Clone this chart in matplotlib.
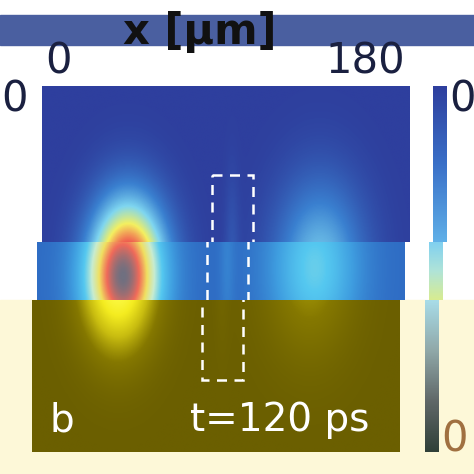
import numpy as np
import matplotlib.pyplot as plt
from matplotlib.colors import LinearSegmentedColormap
from matplotlib.patches import Rectangle

# blob parameters: x centre [um], y centre [px rows], widths, amplitude
blob_x = [42, 136, 93]
blob_y = [190, 182, 175]
blob_sx = [13, 15, 2.5]
blob_sy = [52, 60, 60]
blob_amp = [1.0, 0.36, 0.07]
box_x = [83, 103]
box_y = [89, 294]

x = np.linspace(0, 180, 400)
y = np.linspace(0, 366, 400)
X, Y = np.meshgrid(x, y)
Z = np.zeros_like(X)
for cx, cy, sx, sy, a in zip(blob_x, blob_y, blob_sx, blob_sy, blob_amp):
    Z += a * np.exp(-((X - cx) / sx) ** 2 / 2 - ((Y - cy) / sy) ** 2 / 2)

cm_top = LinearSegmentedColormap.from_list("t", ["#2e3f9e", "#3a80d0", "#7fd6f0", "#f4f060", "#f06050", "#e0306a"])
cm_mid = LinearSegmentedColormap.from_list("m", ["#2f6cc4", "#3f9ee0", "#55c8f0", "#c8ecd0", "#f0e060", "#f06a5a", "#707080"])
cm_bot = LinearSegmentedColormap.from_list("b", ["#6b5f00", "#857800", "#c8bc10", "#f4ec20", "#ffff50"])
cb_top = LinearSegmentedColormap.from_list("ct", ["#2e3f9e", "#3a70c8", "#60b0e8"])
cb_mid = LinearSegmentedColormap.from_list("cm", ["#80d0f0", "#b0e4d8", "#d8ec90"])
cb_bot = LinearSegmentedColormap.from_list("cb", ["#a8dce8", "#90a8a8", "#606868", "#304038"])

fig = plt.figure(figsize=(4.74, 4.74), dpi=100)
fig.patches.append(Rectangle((0, 0), 1, 1 - 300 / 474, transform=fig.transFigure, color="#fdf8d8", zorder=-1))
fig.patches.append(Rectangle((0, 1 - 45 / 474), 1, 30 / 474, transform=fig.transFigure, color="#4a5fa0", zorder=-1))

bands = [(42, 86, 242, cm_top), (37, 242, 300, cm_mid), (32, 300, 455, cm_bot)]
for left, top, bot, cm in bands:
    ax = fig.add_axes([left / 474, 1 - bot / 474, 368 / 474, (bot - top) / 474])
    ax.imshow(Z, cmap=cm, extent=[0, 180, 366, 0], aspect="auto", vmin=0, vmax=1)
    ax.set_xlim(0, 180)
    ax.set_ylim(bot - 86, top - 86)
    ax.add_patch(Rectangle((box_x[0], box_y[0]), box_x[1] - box_x[0], box_y[1] - box_y[0],
                           fill=False, ec="white", ls=(0, (4, 3)), lw=1.8))
    ax.axis("off")

# colorbar strips
grad = np.linspace(0, 1, 200)[:, None]
for left, top, bot, cm in [(433, 86, 242, cb_top), (429, 242, 300, cb_mid), (425, 300, 452, cb_bot)]:
    cax = fig.add_axes([left / 474, 1 - bot / 474, 14 / 474, (bot - top) / 474])
    cax.imshow(grad, cmap=cm, aspect="auto")
    cax.axis("off")

fig.text(200 / 474, 1 - 32 / 474, "x [μm]", fontsize=30, ha="center", va="center", color="#111111", weight="bold")
fig.text(58 / 474, 1 - 62 / 474, "0", fontsize=30, ha="center", va="center", color="#1a2040")
fig.text(365 / 474, 1 - 62 / 474, "180", fontsize=30, ha="center", va="center", color="#1a2040")
fig.text(14 / 474, 1 - 100 / 474, "0", fontsize=30, ha="center", va="center", color="#1a2040")
fig.text(462 / 474, 1 - 100 / 474, "0", fontsize=30, ha="center", va="center", color="#1a2040")
fig.text(455 / 474, 1 - 440 / 474, "0", fontsize=30, ha="center", va="center", color="#a07040")
fig.text(62 / 474, 1 - 420 / 474, "b", fontsize=28, ha="center", va="center", color="white")
fig.text(280 / 474, 1 - 420 / 474, "t=120 ps", fontsize=28, ha="center", va="center", color="white")

fig.savefig("out.png", dpi=100)
